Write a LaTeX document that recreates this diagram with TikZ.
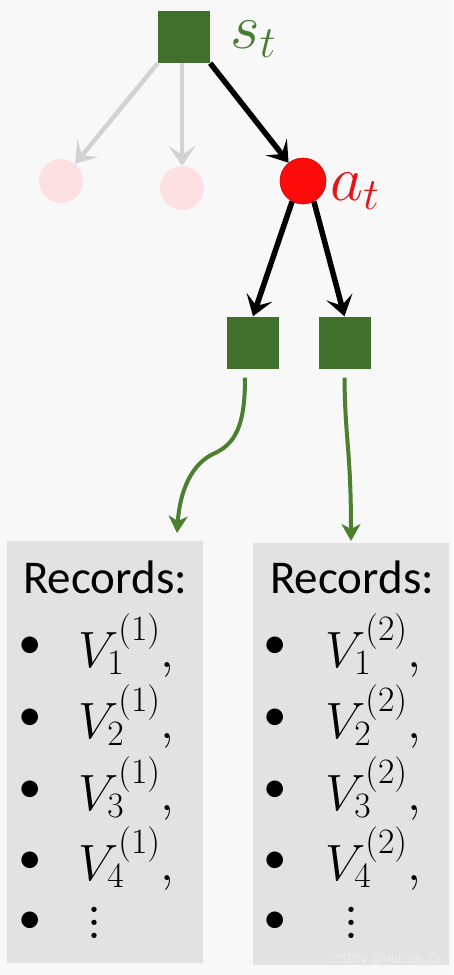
\RequirePackage{fix-cm}
\documentclass[tikz,border=0pt]{standalone}
\usepackage{fontspec}
\newfontfamily\carlito{Carlito}
\newfontfamily\wmfont{Liberation Sans}
\usetikzlibrary{arrows.meta}
\newcommand\myvdots{\vbox{\baselineskip=13pt\lineskiplimit=0pt\hbox{.}\hbox{.}\hbox{.}}}
\definecolor{bgc}{RGB}{248,248,248}
\definecolor{sqgreen}{RGB}{64,112,44}
\definecolor{argreen}{RGB}{76,128,46}
\definecolor{lblgreen}{RGB}{70,125,50}
\definecolor{redc}{RGB}{255,10,10}
\definecolor{redl}{RGB}{230,20,20}
\definecolor{pinkc}{RGB}{253,225,226}
\definecolor{grayarr}{RGB}{210,210,210}
\definecolor{boxgray}{RGB}{226,226,226}
\tikzset{
  sq/.style={rectangle, fill=sqgreen, draw=none, minimum size=52pt, inner sep=0pt},
  actc/.style={circle, fill=redc, draw=red!80!black, line width=0.6pt, minimum size=46pt, inner sep=0pt},
  ghostc/.style={circle, fill=pinkc, draw=none, minimum size=44pt, inner sep=0pt},
  grayarrow/.style={draw=grayarr, line width=4.5pt, -{Stealth[length=20pt,width=27pt,inset=9pt]}},
  blkarrow/.style={draw=black, line width=5.5pt, -{Stealth[length=20pt,width=27pt,inset=9pt]}},
  grnarrow/.style={draw=argreen, line width=4pt, -{Stealth[length=17pt,width=19pt,inset=5pt]}},
  recbox/.style={rectangle, fill=boxgray, draw=none, minimum width=196pt, minimum height=422pt, inner sep=0pt},
  rectitle/.style={anchor=base west, inner sep=0pt, font=\carlito\fontsize{47}{56}\selectfont},
  bul/.style={anchor=center, inner sep=0pt, font=\carlito\fontsize{47}{56}\selectfont},
  vterm/.style={anchor=base west, inner sep=0pt, font=\fontsize{51}{60}\selectfont},
  dotsterm/.style={anchor=base west, inner sep=0pt, font=\fontsize{64}{70}\selectfont},
}
\begin{document}
\begin{tikzpicture}[x=1pt,y=-1pt]
\fill[bgc] (0,0) rectangle (453,975);
\useasboundingbox (0,0) rectangle (453,975);

% top state
\node[sq] (s) at (184,37) {};
\node[anchor=base west, inner sep=0pt, text=lblgreen, font=\fontsize{64}{70}\selectfont] (slbl) at (230,48) {$s_t$};

% children
\node[ghostc] (p1) at (61,181) {};
\node[ghostc] (p2) at (182,188) {};
\node[actc] (a) at (303,181) {};
\node[anchor=base west, inner sep=0pt, text=redl, font=\fontsize{64}{70}\selectfont] (albl) at (330,200) {$a_t$};

\draw[grayarrow] (s.south west) -- (p1);
\draw[grayarrow] (s.south -| p2) -- (p2);
\draw[blkarrow] (s.south east) -- (a);

% next states
\node[sq] (q1) at (253,342.5) {};
\node[sq] (q2) at (344.5,342.5) {};
\draw[blkarrow] (a.-118) -- (q1.north);
\draw[blkarrow] (a.-62) -- (q2.north);

% record boxes
\node[recbox, anchor=north west] (b1) at (7,541) {};
\node[recbox, anchor=north west] (b2) at (253,543) {};

\coordinate (g1s) at ([xshift=-8pt,yshift=-9pt]q1.south);
\coordinate (g1e) at (177,533);
\coordinate (g1m) at (213,454);
\draw[grnarrow] (g1s) .. controls (245,425) and (236,444) .. (g1m) .. controls (192,464) and (180,490) .. (g1e);
\coordinate (g2s) at ([yshift=-9pt]q2.south);
\coordinate (g2e) at (351,541);
\draw[grnarrow] (g2s) .. controls (345,440) and (351,450) .. (g2e);

% left box contents
\node[rectitle] (r1) at (23,593) {Records:};
\node[bul] (l1) at (30,648) {•};
\node[bul] (l2) at (30,720) {•};
\node[bul] (l3) at (30,792) {•};
\node[bul] (l4) at (30,863) {•};
\node[bul] (l5) at (30,923) {•};
\node[vterm] (v11) at (78,667) {$V_1^{(1)},$};
\node[vterm] (v12) at (78,738) {$V_2^{(1)},$};
\node[vterm] (v13) at (78,810) {$V_3^{(1)},$};
\node[vterm] (v14) at (78,880) {$V_4^{(1)},$};
\node[dotsterm] (v15) at (86,938) {\myvdots};

% right box contents
\node[rectitle] (r2) at (270,593) {Records:};
\node[bul] (m1) at (275,648) {•};
\node[bul] (m2) at (275,720) {•};
\node[bul] (m3) at (275,792) {•};
\node[bul] (m4) at (275,863) {•};
\node[bul] (m5) at (275,923) {•};
\node[vterm] (v21) at (325,667) {$V_1^{(2)},$};
\node[vterm] (v22) at (325,738) {$V_2^{(2)},$};
\node[vterm] (v23) at (325,810) {$V_3^{(2)},$};
\node[vterm] (v24) at (325,880) {$V_4^{(2)},$};
\node[dotsterm] (v25) at (343,938) {\myvdots};

\node[anchor=base west, inner sep=0pt, text=white!85!gray, font=\wmfont\fontsize{13}{15}\selectfont] (wm) at (329,963) {CSDN @Vulcan\_Q};
\end{tikzpicture}
\end{document}
